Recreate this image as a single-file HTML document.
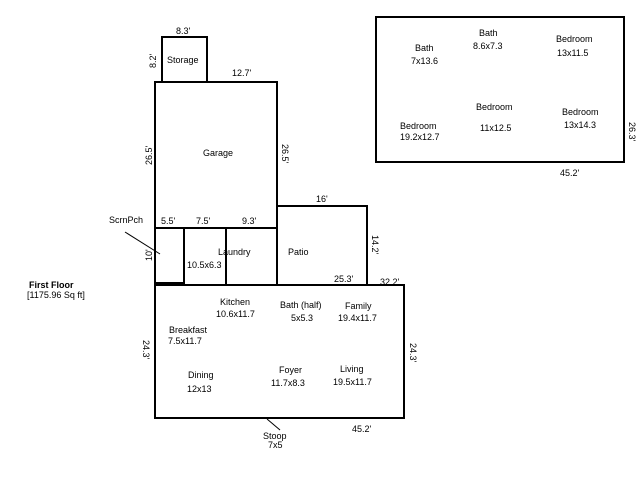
<!DOCTYPE html>
<html><head><meta charset="utf-8"><style>
html,body{margin:0;padding:0;background:#fff}
svg text{font-family:"Liberation Sans",sans-serif;font-size:9px;fill:#000}
</style></head><body>
<svg width="640" height="479" viewBox="0 0 640 479" xmlns="http://www.w3.org/2000/svg">
<g fill="none" stroke="#000" stroke-width="2">
<rect x="162" y="37" width="45" height="45"/>
<rect x="155" y="82" width="122" height="146"/>
<rect x="277" y="206" width="90" height="79"/>
<line x1="226" y1="228" x2="226" y2="285"/>
<rect x="155" y="228" width="29" height="55"/>
<rect x="155" y="285" width="249" height="133"/>
<rect x="376" y="17" width="248" height="145"/>
</g>
<g stroke="#000" stroke-width="1">
<line x1="125" y1="232" x2="160" y2="254"/>
<line x1="267" y1="419" x2="280" y2="430"/>
</g>
<text x="176" y="34">8.3'</text>
<text x="167" y="63">Storage</text>
<text transform="translate(156,68) rotate(-90)">8.2'</text>
<text x="232" y="76">12.7'</text>
<text x="203" y="156">Garage</text>
<text transform="translate(152,165) rotate(-90)">26.5'</text>
<text transform="translate(282,144) rotate(90)">26.5'</text>
<text x="316" y="202">16'</text>
<text x="109" y="223">ScrnPch</text>
<text x="161" y="224">5.5'</text>
<text x="196" y="224">7.5'</text>
<text x="242" y="224">9.3'</text>
<text transform="translate(152,261) rotate(-90)">10'</text>
<text x="218" y="255">Laundry</text>
<text x="187" y="268">10.5x6.3</text>
<text x="288" y="255">Patio</text>
<text transform="translate(372,235) rotate(90)">14.2'</text>
<text x="334" y="282">25.3'</text>
<text x="380" y="285">32.2'</text>
<text x="29" y="288" font-weight="bold">First Floor</text>
<text x="27" y="298">[1175.96 Sq ft]</text>
<text x="220" y="305">Kitchen</text>
<text x="216" y="317">10.6x11.7</text>
<text x="280" y="308">Bath (half)</text>
<text x="291" y="321">5x5.3</text>
<text x="345" y="309">Family</text>
<text x="338" y="321">19.4x11.7</text>
<text x="169" y="333">Breakfast</text>
<text x="168" y="344">7.5x11.7</text>
<text transform="translate(143,340) rotate(90)">24.3'</text>
<text transform="translate(410,343) rotate(90)">24.3'</text>
<text x="188" y="378">Dining</text>
<text x="187" y="392">12x13</text>
<text x="279" y="373">Foyer</text>
<text x="271" y="386">11.7x8.3</text>
<text x="340" y="372">Living</text>
<text x="333" y="385">19.5x11.7</text>
<text x="352" y="432">45.2'</text>
<text x="263" y="439">Stoop</text>
<text x="268" y="448">7x5</text>
<text x="479" y="36">Bath</text>
<text x="473" y="49">8.6x7.3</text>
<text x="556" y="42">Bedroom</text>
<text x="557" y="56">13x11.5</text>
<text x="415" y="51">Bath</text>
<text x="411" y="64">7x13.6</text>
<text x="476" y="110">Bedroom</text>
<text x="480" y="131">11x12.5</text>
<text x="562" y="115">Bedroom</text>
<text x="564" y="128">13x14.3</text>
<text x="400" y="129">Bedroom</text>
<text x="400" y="140">19.2x12.7</text>
<text transform="translate(629,122) rotate(90)">26.3'</text>
<text x="560" y="176">45.2'</text>
</svg>
</body></html>
